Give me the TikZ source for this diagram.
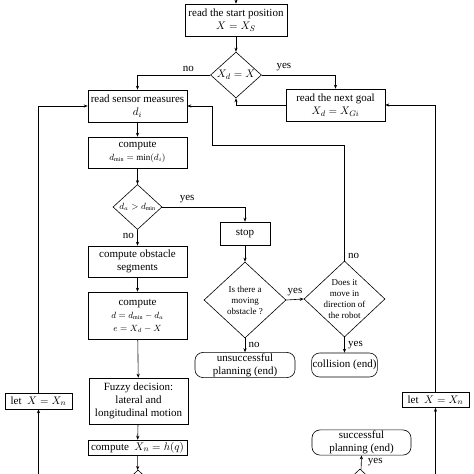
\documentclass[tikz,border=0pt]{standalone}
\usepackage{fontspec}
\setmainfont{Liberation Serif}
\usetikzlibrary{shapes.geometric,arrows.meta}
\tikzset{
  box/.style={draw, align=center, inner sep=1pt},
  term/.style={draw, rounded corners=8pt, align=center, inner sep=1pt},
  dia/.style={draw, diamond, inner sep=0pt},
  flow/.style={-{Stealth[length=4pt,width=3.2pt]}},
}
\begin{document}
\begin{tikzpicture}[x=1pt,y=-1pt,line width=0.6pt,font=\fontsize{11}{13}\selectfont]
\useasboundingbox (0,0) rectangle (474,474);
\clip (0,0) rectangle (474,474);
% main column
\coordinate (entry) at (236,-5);
\node[box, minimum width=102pt, minimum height=32pt] (start) at (236,20) {read the start position\\ $X = X_S$};
\node[dia, minimum width=51pt, minimum height=46pt, label=center:{$X_d = X$}] (goalchk) at (236,75) {};
\node[box, minimum width=99pt, minimum height=32pt] (sensor) at (137.5,106) {read sensor measures\\ $d_i$};
\node[box, minimum width=99pt, minimum height=32pt] (goal) at (335.5,105) {read the next goal\\ $X_d = X_{Gi}$};
\node[box, minimum width=99pt, minimum height=31pt] (mincomp) at (137.5,152.5) {compute\\ \small $d_{\min} = \min(d_i)$};
\node[dia, minimum width=49pt, minimum height=45pt, label=center:{\small $d_a > d_{\min}$}] (obschk) at (137.5,207) {};
\node[box, minimum width=50pt, minimum height=23pt] (stop) at (245,233.5) {stop};
\node[box, minimum width=99pt, minimum height=31pt] (segs) at (137.5,261.5) {compute obstacle\\ segments};
\node[box, minimum width=99pt, minimum height=47pt] (err) at (137.5,315.5) {compute\\ \small $d = d_{\min} - d_a$\\ \small $e = X_d - X$};
\node[box, minimum width=99pt, minimum height=46pt] (fuzzy) at (138.5,401) {Fuzzy decision:\\ lateral and\\ longitudinal motion};
\node[box, minimum width=99pt, minimum height=15pt] (next) at (137.5,447.5) {compute \ $X_n = h(q)$};
\node[dia, minimum width=82pt, minimum height=76pt] (low1) at (138,508) {};
% obstacle checks
\node[dia, minimum width=82pt, minimum height=76pt, label={[align=center, font=\small]center:Is there a\\ moving\\ obstacle ?}] (moving) at (245,300) {};
\node[dia, minimum width=81pt, minimum height=76pt, label={[align=center, font=\small]center:Does it\\ move in\\ direction of\\ the robot}] (dir) at (344.5,299) {};
\node[term, minimum width=100pt, minimum height=24pt] (fail) at (245,365) {unsuccessful\\ planning (end)};
\node[term, minimum width=65pt, minimum height=24pt] (hit) at (344.5,365) {collision (end)};
\node[term, minimum width=99pt, minimum height=23pt] (done) at (361.5,442.5) {successful\\ planning (end)};
\node[dia, minimum width=82pt, minimum height=76pt] (low2) at (360,507) {};
% updates
\node[box, minimum width=67pt, minimum height=16pt] (letL) at (38.5,401) {let \ $X = X_n$};
\node[box, minimum width=67pt, minimum height=15pt] (letR) at (435.5,400) {let \ $X = X_n$};
\coordinate (lfoot) at (38.5,480);
\coordinate (rfoot) at (435.5,480);
\coordinate (turn) at (212,145);
% connectors
\draw[flow] (entry) -- (start);
\draw[flow] (start) -- (goalchk);
\draw[flow] (goalchk.west) -| node[pos=0.15, above] {no} (sensor.north);
\draw[flow] (goalchk.east) -| node[pos=0.15, above] {yes} (goal.north);
\draw[flow] (goal.west) -| (goalchk.south);
\draw[flow] (sensor) -- (mincomp);
\draw[flow] (mincomp) -- (obschk);
\draw[flow] (obschk.east) -| node[pos=0.15, above] {yes} (stop.north);
\draw[flow] (obschk.south) -- node[pos=0.4, left] {no} (segs.north);
\draw[flow] (segs) -- (err);
\draw[flow] (err) -- (fuzzy);
\draw[flow] (fuzzy) -- (next);
\draw[flow] (next) -- (low1);
\draw[flow] (stop) -- (moving);
\draw[flow] (moving.east) -- node[above] {yes} (dir.west);
\draw[flow] (moving.south) -- node[right] {no} (fail.north);
\draw[flow] (dir.south) -- node[right] {yes} (hit.north);
\draw[flow] (dir.north) |- node[pos=0.02, right] {no} (turn) |- (sensor.east);
\draw[flow] (low2) -- node[right, xshift=3pt] {yes} (done.south);
\draw[flow] (lfoot) -- (letL.south);
\draw[flow] (letL.north) |- (sensor.west);
\draw[flow] (rfoot) -- (letR.south);
\draw[flow] (letR.north) |- (goal.east);
\end{tikzpicture}
\end{document}
